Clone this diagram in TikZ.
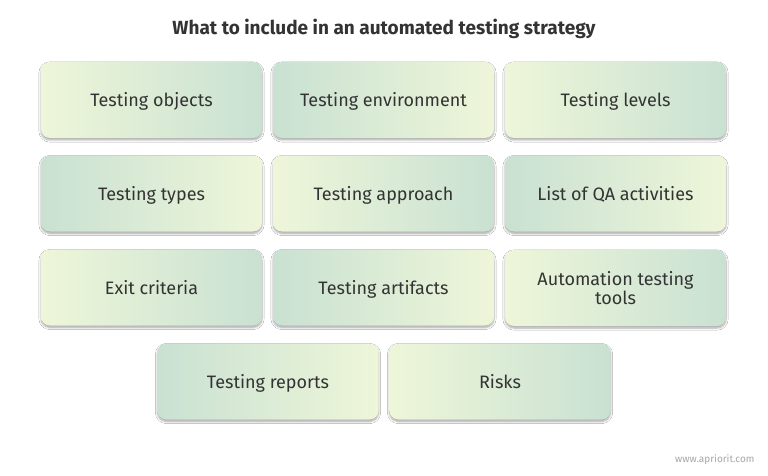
\documentclass[tikz,border=0pt]{standalone}
\usepackage{fontspec}
\setmainfont{Fira Sans}
\usetikzlibrary{shadows.blur}
\definecolor{ylw}{HTML}{EEF6D9}
\definecolor{mnt}{HTML}{C9E1D2}
\definecolor{txt}{HTML}{333333}
\tikzset{
  card/.style={rounded corners=9pt, minimum width=221pt, minimum height=76pt, draw=none,
    blur shadow={shadow xshift=0pt, shadow yshift=-2pt, shadow blur steps=6, shadow opacity=35},
    font=\fontsize{18}{17}\selectfont, text=txt, align=center},
  one/.style={text height=13pt, text depth=-1pt},
  cA/.style={card, left color=ylw, right color=mnt},
  cB/.style={card, left color=mnt, right color=ylw}
}
\begin{document}
\begin{tikzpicture}[x=1pt,y=1pt]
\useasboundingbox[fill=white] (0,0) rectangle (768,475);
\node[font=\bfseries\fontsize{19}{20}\selectfont, text=txt] (title) at (384,446) {What to include in an automated testing strategy};
\node[cA,one] (n1) at (151.5,375) {Testing objects};
\node[cB,one] (n2) at (383.5,375) {Testing environment};
\node[cA,one] (n3) at (615.5,375) {Testing levels};
\node[cB,one] (n4) at (151.5,281.5) {Testing types};
\node[cA,one] (n5) at (383.5,281.5) {Testing approach};
\node[cB,one] (n6) at (615.5,281.5) {List of QA activities};
\node[cA,one] (n7) at (151.5,187.5) {Exit criteria};
\node[cB,one] (n8) at (383.5,187.5) {Testing artifacts};
\node[cA] (n9) at (615.5,187) {Automation testing\\tools};
\node[cB,one] (n10) at (268,93.5) {Testing reports};
\node[cA,one] (n11) at (500,93.5) {Risks};
\node[anchor=east, font=\fontsize{10}{11}\selectfont, text=black!35] (web) at (758,15) {www.apriorit.com};
\end{tikzpicture}
\end{document}
